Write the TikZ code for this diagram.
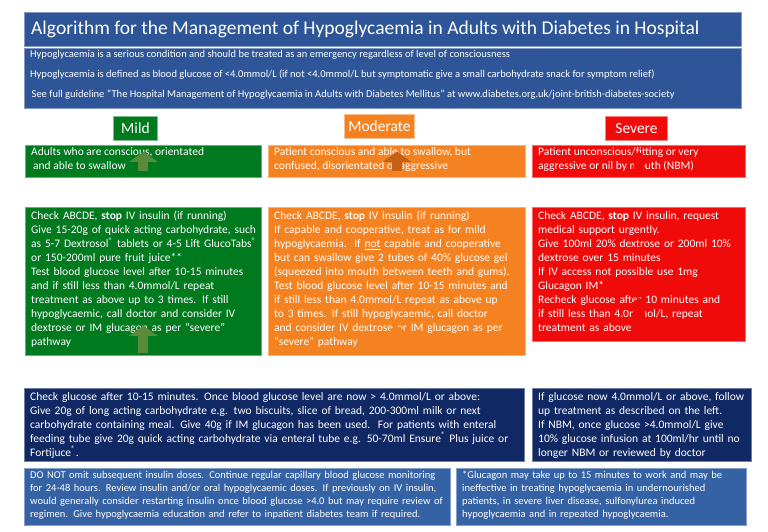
\documentclass[tikz,border=0pt]{standalone}
\usepackage{fontspec}
\setmainfont{Carlito}
\usetikzlibrary{arrows.meta}
\definecolor{cgreen}{RGB}{0,122,30}
\definecolor{corange}{RGB}{245,130,32}
\definecolor{cred}{RGB}{240,10,10}
\definecolor{cnavy}{RGB}{16,40,100}
\definecolor{cblue}{RGB}{46,85,151}
\definecolor{cblue2}{RGB}{52,98,165}
\definecolor{agreen}{RGB}{90,138,58}
\definecolor{aorange}{RGB}{196,96,26}
\hyphenpenalty=10000 \exhyphenpenalty=10000
\begin{document}
\hyphenpenalty=10000 \exhyphenpenalty=10000
\begin{tikzpicture}[x=1pt,y=-1pt,
  panel/.style={draw=#1!60!white, line width=0.8pt, fill=#1, anchor=north west, inner sep=0pt},
  txt/.style={anchor=north west, text=white, align=left, inner xsep=6pt, inner ysep=4pt, font=\fontsize{11.5}{14}\selectfont},
  lab/.style={draw=#1!50!white, line width=1pt, fill=#1, text=white, inner sep=0pt, font=\fontsize{15.5}{17}\selectfont},
  blk/.style={line width=10pt, draw=#1, -{Triangle[width=28pt,length=10pt]}}]
\useasboundingbox (0,0) rectangle (768,532);
\fill[white] (0,0) rectangle (768,532);
% title
\node[panel=cblue, minimum width=717, minimum height=34] (title) at (24,12) {};
\node[anchor=west, text=white, font=\fontsize{19.5}{22}\selectfont, inner xsep=7pt] at (title.west) {Algorithm for the Management of Hypoglycaemia in Adults with Diabetes in Hospital};
\node[panel=cblue, minimum width=717, minimum height=60] (info) at (24,48) {};
\node[txt, font=\fontsize{10.5}{20}\selectfont, inner ysep=2pt] at (info.north west) {Hypoglycaemia is a serious condition and should be treated as an emergency regardless of level of consciousness\\
Hypoglycaemia is defined as blood glucose of <4.0mmol/L (if not <4.0mmol/L but symptomatic give a small carbohydrate snack for symptom relief)\\
\hspace{1.5pt}See full guideline “The Hospital Management of Hypoglycaemia in Adults with Diabetes Mellitus” at www.diabetes.org.uk/joint-british-diabetes-society};
% labels
\node[lab=cgreen, minimum width=44, minimum height=24, anchor=north west] (mild) at (113,116) {Mild};
\node[lab=corange, minimum width=70, minimum height=24, anchor=north west] (mod) at (344,114) {Moderate};
\node[lab=cred, minimum width=62, minimum height=24, anchor=north west] (sev) at (605,116) {Severe};
% row 1
\node[panel=cgreen, minimum width=236, minimum height=32] (g1) at (25,145) {};
\node[txt, inner ysep=2pt] at (g1.north west) {Adults who are conscious, orientated\\\hspace*{2pt}and able to swallow};
\node[panel=corange, minimum width=257, minimum height=32] (o1) at (268,145) {};
\node[txt, inner ysep=2pt] at (o1.north west) {Patient conscious and able to swallow, but\\confused, disorientated or aggressive};
\node[panel=cred, minimum width=213, minimum height=32] (r1) at (532,145) {};
\node[txt, inner ysep=2pt] at (r1.north west) {Patient unconscious/fitting or very\\aggressive or nil by mouth (NBM)};
% row 2
\node[panel=cgreen, minimum width=236, minimum height=148] (g2) at (25,207) {};
\node[txt, text width=226] at (g2.north west) {Check ABCDE, \textbf{stop} IV insulin (if running)\\
Give 15-20g of quick acting carbohydrate, such as 5-7 Dextrosol\textsuperscript{®} tablets or 4-5 Lift GlucoTabs\textsuperscript{®} or 150-200ml pure fruit juice**\\
Test blood glucose level after 10-15 minutes and if still less than 4.0mmol/L repeat treatment as above up to 3 times. If still hypoglycaemic, call doctor and consider IV dextrose or IM glucagon as per “severe” pathway};
\node[panel=corange, minimum width=257, minimum height=148] (o2) at (268,207) {};
\node[txt, text width=247] at (o2.north west) {Check ABCDE, \textbf{stop} IV insulin (if running)\\
If capable and cooperative, treat as for mild hypoglycaemia.\ \ If \underline{not} capable and cooperative but can swallow give 2 tubes of 40\% glucose gel (squeezed into mouth between teeth and gums).\\
Test blood glucose level after 10-15 minutes and if still less than 4.0mmol/L repeat as above up to 3 times. If still hypoglycaemic, call doctor and consider IV dextrose or IM glucagon as per “severe” pathway};
\node[panel=cred, minimum width=213, minimum height=134] (r2) at (532,207) {};
\node[txt, text width=203] at (r2.north west) {Check ABCDE, \textbf{stop} IV insulin, request medical support urgently.\\
Give 100ml 20\% dextrose or 200ml 10\% dextrose over 15 minutes\\
If IV access not possible use 1mg Glucagon IM*\\
Recheck glucose after 10 minutes and if still less than 4.0mmol/L, repeat treatment as above};
% row 3
\node[panel=cnavy, minimum width=500, minimum height=73] (n1) at (24,388) {};
\node[txt, text width=490] at (n1.north west) {Check glucose after 10-15 minutes. Once blood glucose level are now > 4.0mmol/L or above:\ \ Give 20g of long acting carbohydrate e.g. two biscuits, slice of bread, 200-300ml milk or next carbohydrate containing meal. Give 40g if IM glucagon has been used.\ \ For patients with enteral feeding tube give 20g quick acting carbohydrate via enteral tube e.g. 50-70ml Ensure\textsuperscript{®} Plus juice or Fortijuce\textsuperscript{®}.};
\node[panel=cnavy, minimum width=219, minimum height=73] (n2) at (532,388) {};
\node[txt, text width=209] at (n2.north west) {If glucose now 4.0mmol/L or above, follow up treatment as described on the left.\\
If NBM, once glucose >4.0mmol/L give 10\% glucose infusion at 100ml/hr until no longer NBM or reviewed by doctor};
% row 4
\node[panel=cblue2, minimum width=426, minimum height=57] (b1) at (24,468) {};
\node[txt, text width=416, inner ysep=3pt, font=\fontsize{10.5}{13}\selectfont] at (b1.north west) {DO NOT omit subsequent insulin doses. Continue regular capillary blood glucose monitoring for 24-48 hours. Review insulin and/or oral hypoglycaemic doses. If previously on IV insulin, would generally consider restarting insulin once blood glucose >4.0 but may require review of regimen. Give hypoglycaemia education and refer to inpatient diabetes team if required.};
\node[panel=cblue2, minimum width=290, minimum height=57] (b2) at (456,468) {};
\node[txt, text width=260, inner ysep=3pt, font=\fontsize{10.5}{13}\selectfont] at (b2.north west) {*Glucagon may take up to 15 minutes to work and may be ineffective in treating hypoglycaemia in undernourished patients, in severe liver disease, sulfonylurea induced hypoglycaemia and in repeated hypoglycaemia.};
% arrows
\draw[blk=agreen] ([yshift=7]g1.south) -- ([yshift=26]g1.south);
\draw[blk=aorange] ([yshift=7]o1.south) -- ([yshift=26]o1.south);
\draw[blk=cred] ([yshift=7]r1.south) -- ([yshift=26]r1.south);
\draw[blk=agreen] ([yshift=3]g2.south) -- ([yshift=30]g2.south);
\draw[blk=corange] ([yshift=3]o2.south) -- ([yshift=30]o2.south);
\draw[blk=cred, line width=12pt, -{Triangle[width=30pt,length=12pt]}] ([yshift=8]r2.south) -- ([yshift=44]r2.south);
\end{tikzpicture}
\end{document}
